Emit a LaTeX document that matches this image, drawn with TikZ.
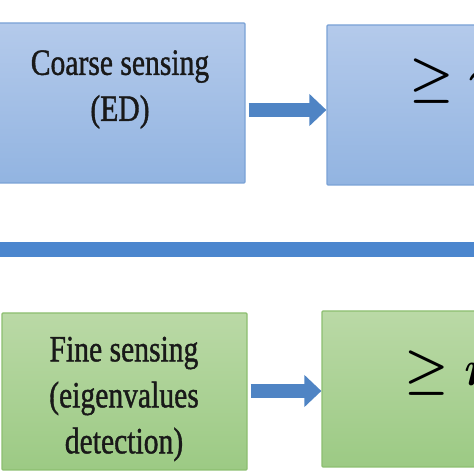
\documentclass[tikz,border=0pt]{standalone}
\usepackage{fontspec}
\setmainfont{Liberation Serif}
\newfontfamily\heavyserif[FakeBold=1.2]{Liberation Serif}
\usetikzlibrary{arrows.meta}
\definecolor{bluetop}{RGB}{180,202,235}
\definecolor{bluebot}{RGB}{146,180,225}
\definecolor{blueedge}{RGB}{122,162,214}
\definecolor{greentop}{RGB}{186,217,166}
\definecolor{greenbot}{RGB}{156,202,132}
\definecolor{greenedge}{RGB}{140,190,112}
\definecolor{arrowc}{RGB}{79,132,196}
\definecolor{linec}{RGB}{75,134,206}
\tikzset{
  boxbase/.style={rectangle, inner sep=0pt, rounded corners=1pt, line width=1.2pt},
  bluebox/.style={boxbase, draw=blueedge, top color=bluetop, bottom color=bluebot},
  greenbox/.style={boxbase, draw=greenedge, top color=greentop, bottom color=greenbot},
  labeltext/.style={inner sep=0pt, align=center, xscale=0.8, font=\heavyserif\fontsize{37}{46}\selectfont, text=black!90},
  mathtext/.style={inner sep=0pt, anchor=base west, scale=2, font=\fontsize{24}{28}\selectfont\boldmath},
  flowarrow/.style={line width=14pt, draw=arrowc, shorten <=3pt,
    -{Triangle[length=17pt,width=31pt]}},
  sepline/.style={line width=15pt, draw=linec}
}
\begin{document}
\begin{tikzpicture}[x=1pt,y=1pt]
\useasboundingbox (0,0) rectangle (474,474);
\clip (0,0) rectangle (474,474);
% boxes
\node[bluebox, minimum width=247pt, minimum height=160pt] (tl) at (121.5,371) {};
\node[bluebox, minimum width=160pt, minimum height=160pt] (tr) at (407,369) {};
\node[greenbox, minimum width=245pt, minimum height=157pt] (bl) at (124.5,82.5) {};
\node[greenbox, minimum width=165pt, minimum height=156pt] (br) at (404.5,85) {};
% texts
\node[labeltext] (tltext) at (120,384.5) {Coarse sensing\\(ED)};
\node[labeltext] (bltext) at (124,75) {Fine sensing\\(eigenvalues\\detection)};
\node[mathtext] (trtext) at (409,380.5) {$\geq \gamma$};
\node[mathtext] (brtext) at (404,88.5) {$\geq \eta$};
% arrows
\draw[flowarrow] (tl.east |- 0,364) -- (tr.west |- 0,364);
\draw[flowarrow] (bl.east |- 0,83) -- (br.west |- 0,83);
% separator line
\coordinate (sl) at (0,224.5);
\coordinate (sr) at (474,224.5);
\draw[sepline] (sl) -- (sr);
\end{tikzpicture}
\end{document}
